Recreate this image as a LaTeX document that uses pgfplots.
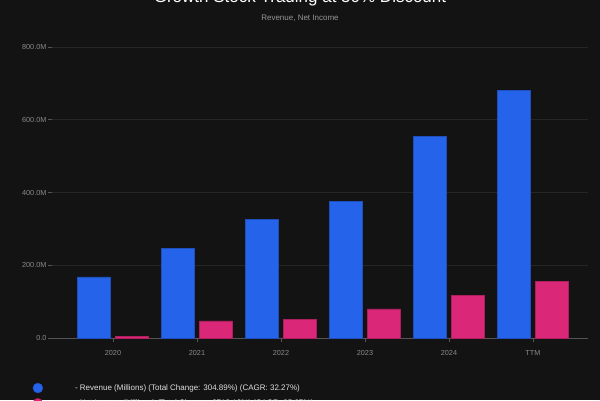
\documentclass[border=0pt]{standalone}
\usepackage{pgfplots}
\pgfplotsset{compat=1.18}
\usepackage{fontspec}
\setmainfont{Liberation Sans}
\definecolor{bg}{HTML}{131313}
\definecolor{gridc}{HTML}{262626}
\definecolor{axc}{HTML}{555555}
\definecolor{tickc}{HTML}{8A8A8A}
\definecolor{revc}{HTML}{2563EB}
\definecolor{netc}{HTML}{DB2777}
\begin{document}
\begin{tikzpicture}[x=1pt,y=1pt]
\fill[bg] (0,0) rectangle (600,400);
\node[text=white,font=\fontsize{17}{20}\selectfont] at (300,402) {Growth Stock Trading at 50\% Discount};
\node[text=tickc!90!white,font=\fontsize{8}{10}\selectfont] at (300,382) {Revenue, Net Income};
\begin{axis}[
    at={(52pt,62pt)}, anchor=south west,
    scale only axis, width=536pt, height=291pt,
    xmin=-0.726, xmax=5.655,
    ymin=0, ymax=800,
    ybar=5pt, bar width=33pt,
    xtick=data,
    xticklabels={2020,2021,2022,2023,2024,TTM},
    ytick={0,200,400,600,800},
    yticklabels={0.0,200.0M,400.0M,600.0M,800.0M},
    axis x line*=bottom,
    axis y line*=left,
    y axis line style={draw=none},
    x axis line style={draw=axc,line width=1pt,-},
    ymajorgrids,
    grid style={gridc,line width=0.8pt},
    major tick length=4pt,
    xtick style={draw=axc,line width=0.8pt},
    ytick style={draw=axc,line width=0.8pt},
    tick align=outside,
    ticklabel style={text=tickc,font=\fontsize{7.3}{8}\selectfont},
    xticklabel style={yshift=-5pt},
    yticklabel style={xshift=2pt},
    legend style={at={(axis description cs:-0.042,-0.145)},anchor=north west,
        draw=none,fill=none,text=white!88!black,
        font=\fontsize{8}{9.5}\selectfont,
        row sep=4pt,
        legend cell align=left},
    legend image code/.code={\fill[#1] (3pt,0pt) circle (5pt);},
]
\addplot[fill=revc,draw=revc!80!black] coordinates {(0,168)(1,247)(2,327)(3,376)(4,555)(5,681)};
\addlegendentry{\hspace*{30pt}- Revenue (Millions) (Total Change: 304.89\%) (CAGR: 32.27\%)}
\addplot[fill=netc,draw=netc!80!black] coordinates {(0,5.5)(1,47)(2,52)(3,80)(4,118)(5,155)};
\addlegendentry{\hspace*{30pt}- Net Income (Millions) (Total Change: 2718.18\%) (CAGR: 95.07\%)}
\end{axis}
\pgfresetboundingbox
\useasboundingbox (0,0) rectangle (600,400);
\end{tikzpicture}
\end{document}
